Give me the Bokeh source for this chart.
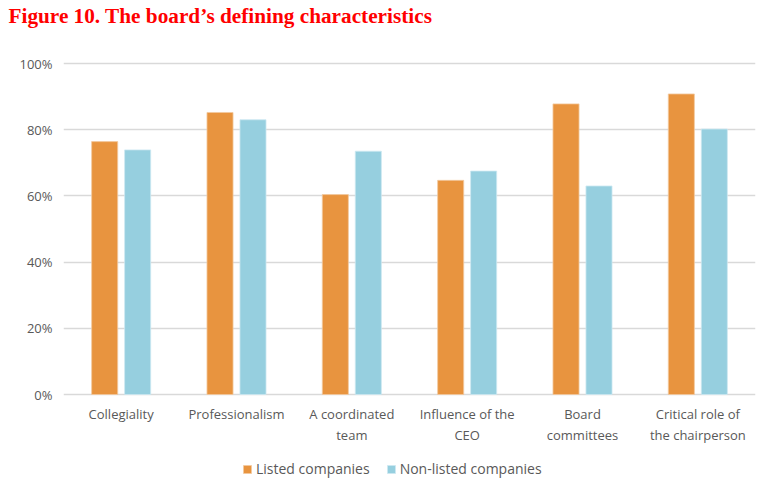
from bokeh.plotting import figure
from bokeh.models import ColumnDataSource, FactorRange, Range1d, NumeralTickFormatter, Legend, LegendItem, FixedTicker
from bokeh.transform import dodge
from bokeh.embed import file_html
from bokeh.resources import INLINE

categories = ["Collegiality", "Professionalism", "A coordinated\nteam",
              "Influence of the\nCEO", "Board\ncommittees", "Critical role of\nthe chairperson"]
listed = [0.764, 0.852, 0.604, 0.647, 0.878, 0.908]
non_listed = [0.739, 0.830, 0.735, 0.675, 0.630, 0.802]
y_ticks = [0, 0.2, 0.4, 0.6, 0.8, 1.0]

ORANGE = "#E8943F"
BLUE = "#96CFDF"
GREY = "#595959"

src = ColumnDataSource(dict(cat=categories, listed=listed, non_listed=non_listed))

# frame extends beyond the 0-100% band so the title and legend can be placed freely
p = figure(frame_width=692, frame_height=458, x_range=FactorRange(*categories, range_padding=0),
           y_range=Range1d(-0.287, 1.0967), output_backend="svg", toolbar_location=None,
           min_border_left=63, min_border_right=13, min_border_top=31, min_border_bottom=0)

p.title.text = "Figure 10. The board\u2019s defining characteristics"
p.title.text_font = "Liberation Serif"
p.title.text_font_size = "21.25px"
p.title.text_font_style = "bold"
p.title.text_color = "#FF0000"
p.title.align = "left"
p.title.vertical_align = "top"
p.title.offset = -55
p.title.standoff = 4

r1 = p.vbar(x=dodge("cat", -0.143, range=p.x_range), top="listed", width=0.226, source=src,
            fill_color=ORANGE, line_color="#F3C9A0", line_width=0.8)
r2 = p.vbar(x=dodge("cat", 0.143, range=p.x_range), top="non_listed", width=0.226, source=src,
            fill_color=BLUE, line_color="#CDE9F1", line_width=0.8)

p.outline_line_color = None
p.xgrid.grid_line_color = None
p.ygrid.grid_line_color = "#D9D9D9"
p.ygrid.grid_line_width = 1.5
p.ygrid.ticker = FixedTicker(ticks=y_ticks)

p.yaxis.ticker = FixedTicker(ticks=y_ticks)
p.yaxis.formatter = NumeralTickFormatter(format="0%")
p.yaxis.axis_line_color = None
p.yaxis.major_tick_line_color = None
p.yaxis.minor_tick_line_color = None
p.yaxis.major_label_text_font = "Open Sans"
p.yaxis.major_label_text_font_size = "13px"
p.yaxis.major_label_text_color = GREY
p.yaxis.major_label_standoff = 5

p.xaxis.fixed_location = 0
p.xaxis.axis_line_color = None
p.xaxis.major_tick_line_color = None
p.xaxis.minor_tick_line_color = None
p.xaxis.major_label_text_font = "Open Sans"
p.xaxis.major_label_text_font_size = "13px"
p.xaxis.major_label_text_color = GREY
p.xaxis.major_label_standoff = 4

legend = Legend(items=[LegendItem(label="Listed companies", renderers=[r1]),
                       LegendItem(label="Non-listed companies", renderers=[r2])],
                orientation="horizontal", location=(179, 11),
                label_text_font="Open Sans", label_text_font_size="14px",
                label_text_color=GREY, glyph_width=10, glyph_height=10,
                label_standoff=4, spacing=16, border_line_color=None,
                background_fill_alpha=0, margin=0, padding=0)
p.add_layout(legend, "center")

open("out.html", "w").write(file_html(p, INLINE))
